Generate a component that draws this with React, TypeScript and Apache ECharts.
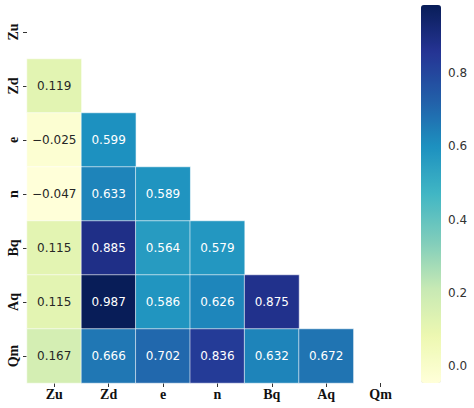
import React, { useEffect, useRef } from "react";
import * as echarts from "echarts";

// Variable names (shared by both axes, Zu at the top-left)
const variables = ["Zu", "Zd", "e", "n", "Bq", "Aq", "Qm"];

// Lower-triangle correlation coefficients, row by row (diagonal and above are masked)
const rowZd = [0.119];
const rowE = [-0.025, 0.599];
const rowN = [-0.047, 0.633, 0.589];
const rowBq = [0.115, 0.885, 0.564, 0.579];
const rowAq = [0.115, 0.987, 0.586, 0.626, 0.875];
const rowQm = [0.167, 0.666, 0.702, 0.836, 0.632, 0.672];
const lowerRows = [[], rowZd, rowE, rowN, rowBq, rowAq, rowQm];

// Colour bar ticks
const colorbarTicks = [0, 0.2, 0.4, 0.6, 0.8];

// YlGnBu colour map
const ylGnBu = [
  "#ffffd9", "#edf8b1", "#c7e9b4", "#7fcdbb", "#41b6c4",
  "#1d91c0", "#225ea8", "#253494", "#081d58",
];

const allValues = lowerRows.flat();
const vMin = Math.min(...allValues);
const vMax = Math.max(...allValues);

const fmt = (v: number) => v.toFixed(3).replace("-", "\u2212");

export default function App() {
  const ref = useRef<HTMLDivElement>(null);

  useEffect(() => {
    if (!ref.current) return;
    const chart = echarts.init(ref.current, null, { renderer: "svg" });

    const cells: any[] = [];
    lowerRows.forEach((row, r) => {
      row.forEach((v, c) => {
        cells.push({
          value: [c, r, v],
          label: { color: v > 0.4 ? "#ffffff" : "#262626" },
        });
      });
    });

    const cellLeft = 27;
    const cellTop = 5;
    const cellSize = 54.4;
    const gridH = 378;

    const axisFont = {
      fontFamily: "Liberation Serif",
      fontWeight: "bold",
      fontSize: 14,
      color: "#111",
    };

    chart.setOption({
      animation: false,
      backgroundColor: "#ffffff",
      grid: [
        { left: cellLeft, top: cellTop, width: cellSize * 7, height: gridH },
        { left: 421, top: cellTop, width: 20, height: gridH },
      ],
      xAxis: [
        {
          type: "category",
          data: variables,
          gridIndex: 0,
          axisLine: { show: false },
          axisTick: { show: true, alignWithLabel: true, length: 4, lineStyle: { color: "#333" } },
          axisLabel: { ...axisFont, margin: 4 },
          splitLine: { show: false },
        },
        { type: "value", gridIndex: 1, show: false, min: 0, max: 1 },
      ],
      yAxis: [
        {
          type: "category",
          data: variables,
          inverse: true,
          gridIndex: 0,
          axisLine: { show: false },
          axisTick: { show: true, alignWithLabel: true, length: 4, lineStyle: { color: "#333" } },
          axisLabel: { ...axisFont, rotate: 90, margin: 7 },
          splitLine: { show: false },
        },
        {
          type: "value",
          gridIndex: 1,
          position: "right",
          min: vMin,
          max: vMax,
          axisLine: { show: false },
          splitLine: { show: false },
          axisTick: {
            show: true,
            length: 4,
            lineStyle: { color: "#333" },
            customValues: colorbarTicks,
          },
          axisLabel: {
            fontFamily: "DejaVu Sans",
            fontSize: 12,
            color: "#333",
            margin: 7,
            customValues: colorbarTicks,
            formatter: (v: number) => v.toFixed(1),
          },
        },
      ],
      visualMap: {
        type: "continuous",
        seriesIndex: 0,
        min: vMin,
        max: vMax,
        calculable: false,
        hoverLink: false,
        left: 421,
        top: cellTop,
        itemWidth: 20,
        itemHeight: gridH,
        text: null,
        padding: 0,
        inRange: { color: ylGnBu },
      },
      series: [
        {
          type: "heatmap",
          xAxisIndex: 0,
          yAxisIndex: 0,
          data: cells,
          label: {
            show: true,
            fontFamily: "DejaVu Sans",
            fontSize: 12,
            formatter: (p: any) => fmt(p.value[2]),
          },
          itemStyle: { borderColor: "rgba(255,255,255,0.75)", borderWidth: 0.8 },
          emphasis: { disabled: true },
        },
        {
          type: "scatter",
          xAxisIndex: 1,
          yAxisIndex: 1,
          data: [],
        },
      ],
    });

    return () => chart.dispose();
  }, []);

  return (
    <div
      ref={ref}
      style={{ position: "fixed", left: 0, top: 0, width: 474, height: 408, background: "#fff" }}
    />
  );
}
